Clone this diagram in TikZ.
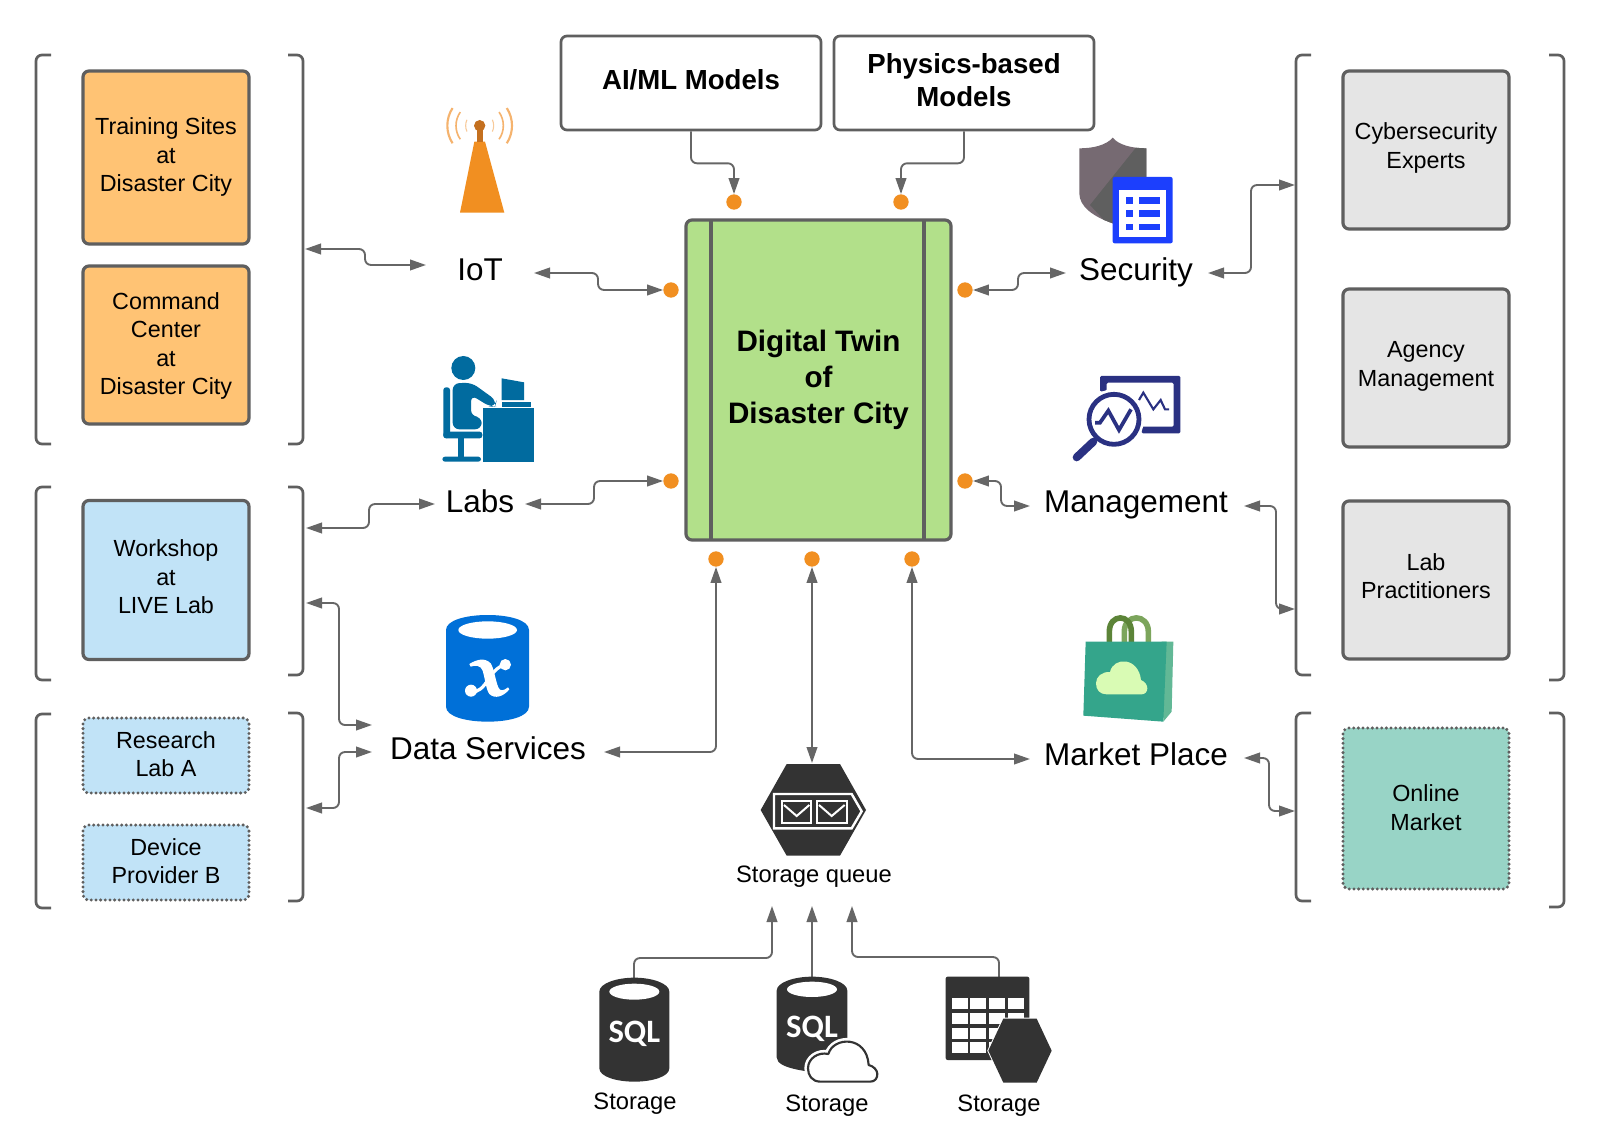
\documentclass[tikz,border=0pt]{standalone}
\usepackage{fontspec}
\setmainfont{Liberation Sans}
\newfontfamily\sqlfont{Carlito}
\usetikzlibrary{arrows.meta,calc}
\definecolor{edgegray}{HTML}{5F5F5F}
\definecolor{linkgray}{HTML}{666666}
\definecolor{boxorange}{HTML}{FFC374}
\definecolor{boxblue}{HTML}{C1E3F7}
\definecolor{boxgray}{HTML}{E5E5E5}
\definecolor{boxteal}{HTML}{98D4C6}
\definecolor{boxgreen}{HTML}{B2E08A}
\definecolor{dotorange}{HTML}{F18F21}
\definecolor{towerdark}{HTML}{C4701F}
\definecolor{towerwave}{HTML}{F5B36E}
\definecolor{labblue}{HTML}{016B9F}
\definecolor{shieldlight}{HTML}{766A72}
\definecolor{shielddark}{HTML}{5F5F5F}
\definecolor{panelblue}{HTML}{1C3FFD}
\definecolor{mgmtblue}{HTML}{2A3182}
\definecolor{dataBlue}{HTML}{0070D8}
\definecolor{bagteal}{HTML}{34A58B}
\definecolor{bagside}{HTML}{62B896}
\definecolor{handledark}{HTML}{5C8438}
\definecolor{handlelight}{HTML}{7CA55C}
\definecolor{cloudgreen}{HTML}{D9FBB4}
\definecolor{icondark}{HTML}{333333}
\tikzset{
  boxbase/.style={rounded corners=4.5pt,align=center,inner sep=0pt,text=black,
    font=\fontsize{17.5}{21.4}\selectfont},
  solidbox/.style={boxbase,draw=edgegray,line width=2.4pt},
  dotbox/.style={boxbase,draw=edgegray,line width=2.5pt,dash pattern=on 0pt off 3.5pt,line cap=round},
  modelbox/.style={draw=edgegray,line width=2pt,fill=white,rounded corners=4.5pt,align=center,inner sep=0pt,
    font=\fontsize{20.7}{24.7}\selectfont\bfseries},
  biglabel/.style={font=\fontsize{23.6}{28}\selectfont,inner sep=0pt},
  smalllabel/.style={font=\fontsize{17.8}{21}\selectfont,inner sep=0pt},
  portdot/.style={circle,fill=dotorange,minimum size=11.5pt,inner sep=0pt},
  bracketline/.style={draw=edgegray,line width=2pt,rounded corners=4.5pt},
  link/.style={draw=linkgray,line width=1.4pt,rounded corners=4.5pt,
    -{Triangle[length=12pt,width=8pt,fill=linkgray]}},
  dlink/.style={link,{Triangle[length=12pt,width=8pt,fill=linkgray]}-{Triangle[length=12pt,width=8pt,fill=linkgray]}},
  zoomscope/.style={x=0.25pt,y=-0.25pt}
}
\begin{document}
\begin{tikzpicture}[x=0.75pt,y=-0.75pt]
\useasboundingbox (0,0) rectangle (1600,1148);
\fill[white] (0,0) rectangle (1600,1148);

% brackets
\draw[bracketline] (51,55) -- (36,55) -- (36,444) -- (51,444);
\draw[bracketline] (288,55) -- (303,55) -- (303,444) -- (288,444);
\draw[bracketline] (51,487) -- (36,487) -- (36,680) -- (51,680);
\draw[bracketline] (288,487) -- (303,487) -- (303,675) -- (288,675);
\draw[bracketline] (51,714) -- (36,714) -- (36,908) -- (51,908);
\draw[bracketline] (288,713) -- (303,713) -- (303,901) -- (288,901);
\draw[bracketline] (1311,55) -- (1296,55) -- (1296,675) -- (1311,675);
\draw[bracketline] (1549,55) -- (1564,55) -- (1564,680) -- (1549,680);
\draw[bracketline] (1311,713) -- (1296,713) -- (1296,901) -- (1311,901);
\draw[bracketline] (1549,713) -- (1564,713) -- (1564,907) -- (1549,907);

% left boxes
\node[solidbox,fill=boxorange,minimum width=124.5pt,minimum height=129.75pt,text depth=4.2pt] (training) at (166,157.5) {Training Sites\\at\\Disaster City};
\node[solidbox,fill=boxorange,minimum width=124.5pt,minimum height=118.5pt,text depth=2.2pt] (command) at (166,345) {Command\\Center\\at\\Disaster City};
\node[solidbox,fill=boxblue,minimum width=124.5pt,minimum height=119.25pt,text depth=4.6pt] (workshop) at (166,580) {Workshop\\at\\LIVE Lab};
\node[dotbox,fill=boxblue,minimum width=124.5pt,minimum height=56.25pt,text depth=2.4pt] (research) at (166,755.5) {Research\\Lab A};
\node[dotbox,fill=boxblue,minimum width=124.5pt,minimum height=56.25pt,text depth=2.3pt] (device) at (166,862.5) {Device\\Provider B};

% right boxes
\node[solidbox,fill=boxgray,minimum width=124.5pt,minimum height=118.5pt,text depth=6.7pt] (cyber) at (1426,150) {Cybersecurity\\Experts};
\node[solidbox,fill=boxgray,minimum width=124.5pt,minimum height=118.5pt,text depth=6pt] (agency) at (1426,368) {Agency\\Management};
\node[solidbox,fill=boxgray,minimum width=124.5pt,minimum height=118.5pt,text depth=6pt] (practitioners) at (1426,580) {Lab\\Practitioners};
\node[dotbox,fill=boxteal,minimum width=124.5pt,minimum height=120.75pt,text depth=1.5pt] (online) at (1426,808.5) {Online\\Market};

% model boxes
\node[modelbox,minimum width=195pt,minimum height=70.5pt,text depth=4.6pt] (aiml) at (691,83) {AI/ML Models};
\node[modelbox,minimum width=195pt,minimum height=70.5pt,text depth=4.6pt] (physics) at (964,83) {Physics-based\\Models};

% central box
\node[draw=edgegray,line width=2.4pt,fill=boxgreen,rounded corners=4.5pt,minimum width=198.75pt,minimum height=240pt,inner sep=0pt,
  align=center,font=\fontsize{22.2}{26.8}\selectfont\bfseries] (twin) at (818.5,380) {Digital Twin\\of\\Disaster City};
\draw[edgegray,line width=2.8pt] (711,220) -- (711,540);
\draw[edgegray,line width=2.8pt] (924,220) -- (924,540);

% port dots
\node[portdot] (dAI) at (734,202) {};
\node[portdot] (dPH) at (901,202) {};
\node[portdot] (dIoT) at (671,290) {};
\node[portdot] (dLab) at (671,481) {};
\node[portdot] (dSec) at (965,290) {};
\node[portdot] (dMan) at (965,481) {};
\node[portdot] (dData) at (716,559) {};
\node[portdot] (dQueue) at (812,559) {};
\node[portdot] (dMkt) at (912,559) {};

% labels
\node[biglabel] (iot) at (480,270) {IoT};
\node[biglabel] (labs) at (480,501) {Labs};
\node[biglabel] (dataserv) at (488,748) {Data Services};
\node[biglabel] (security) at (1136,272) {Security};
\node[biglabel] (management) at (1136,505) {Management};
\node[biglabel] (market) at (1136,754) {Market Place};
\node[smalllabel] (queuelabel) at (814,877) {Storage queue};
\node[smalllabel] (st1) at (635,1104) {Storage};
\node[smalllabel] (st2) at (827,1106) {Storage};
\node[smalllabel] (st3) at (999,1106) {Storage};

% connector ends
\coordinate (bA) at (305,249);
\coordinate (bB) at (306,528);
\coordinate (bC) at (306,603);
\coordinate (bD) at (306,808);
\coordinate (bE) at (1295,185);
\coordinate (bF) at (1295,609);
\coordinate (bG) at (1295,811);
\coordinate (iotW) at (426,265);
\coordinate (iotE) at (534,273);
\coordinate (labsW) at (435,504);
\coordinate (labsE) at (525,504);
\coordinate (dsWa) at (372,725);
\coordinate (dsWb) at (372,752);
\coordinate (dsE) at (604,752);
\coordinate (secW) at (1066,273);
\coordinate (secE) at (1208,273);
\coordinate (manW) at (1030,506);
\coordinate (manE) at (1244,506);
\coordinate (mktW) at (1030,759);
\coordinate (mktE) at (1244,758);
\coordinate (queueTop) at (812,763);
\coordinate (queueIn1) at (772,906);
\coordinate (queueIn2) at (812,906);
\coordinate (queueIn3) at (852,906);
\coordinate (sql1Top) at (634,978);
\coordinate (sql2Top) at (812,977);
\coordinate (tblTop) at (999,977);

% connectors
\draw[dlink] (bA) -- ++(60,0) |- (iotW);
\draw[dlink] (iotE) -- ++(64,0) |- (dIoT.west);
\draw[dlink] (bB) -- ++(63,0) |- (labsW);
\draw[dlink] (labsE) -- ++(69,0) |- (dLab.west);
\draw[dlink] (bC) -- ++(33,0) |- (dsWa);
\draw[dlink] (bD) -- ++(33,0) |- (dsWb);
\draw[dlink] (dsE) -| (dData.south);
\draw[dlink] (queueTop) -- (dQueue.south);
\draw[dlink] (mktW) -| (dMkt.south);
\draw[dlink] (mktE) -- ++(25,0) |- (bG);
\draw[dlink] (manE) -- ++(32,0) |- (bF);
\draw[dlink] (manW) -- ++(-29,0) |- (dMan.east);
\draw[dlink] (secW) -- ++(-48,0) |- (dSec.east);
\draw[dlink] (secE) -- ++(43,0) |- (bE);
\draw[link] (aiml.south) -- ++(0,32) -| (dAI.north);
\draw[link] (physics.south) -- ++(0,32) -| (dPH.north);
\draw[link] (sql1Top) -- ++(0,-20) -| (queueIn1);
\draw[link] (sql2Top) -- (queueIn2);
\draw[link] (tblTop) -- ++(0,-20) -| (queueIn3);

% tower + lab icons (zoom frame 400,90)
\begin{scope}[shift={(400,90)},zoomscope]
  \fill[dotorange] (223,155) -- (255,155) -- (313,368) -- (180,368) -- cycle;
  \fill[towerdark] (230,115) rectangle (248,155);
  \fill[towerdark] (239,107) circle[radius=17];
  \draw[towerwave,line width=1.6pt] (239,107) ++(147:97) arc[start angle=147,end angle=213,radius=97];
  \draw[towerwave,line width=1.6pt] (239,107) ++(33:97) arc[start angle=33,end angle=-33,radius=97];
  \draw[towerwave,line width=1.2pt] (239,107) ++(145:71) arc[start angle=145,end angle=215,radius=71];
  \draw[towerwave,line width=1.2pt] (239,107) ++(35:71) arc[start angle=35,end angle=-35,radius=71];
  \draw[towerwave!70,line width=0.8pt] (239,107) ++(155:42) arc[start angle=155,end angle=205,radius=42];
  \draw[towerwave!70,line width=0.8pt] (239,107) ++(25:42) arc[start angle=25,end angle=-25,radius=42];
  % lab
  \fill[labblue] (190,834) circle[radius=36];
  \fill[labblue] (250,955) rectangle (402,1115);
  \fill[labblue] (305,865) -- (372,877) -- (372,930) -- (305,930) -- cycle;
  \fill[labblue] (305,935) rectangle (392,952);
  \fill[labblue,rounded corners=5pt] (158,880) -- (215,878) -- (290,932) -- (285,950) -- (270,950) -- (213,915) -- (213,980) -- (245,980) -- (245,1018) -- (158,1018) -- cycle;
  \fill[labblue,rounded corners=2pt] (130,892) rectangle (150,1044);
  \fill[labblue,rounded corners=2pt] (130,1025) rectangle (247,1045);
  \fill[labblue] (175,1045) rectangle (193,1100);
  \fill[labblue,rounded corners=2pt] (127,1100) rectangle (243,1115);
\end{scope}

% security + management icons (zoom frame 1040,120)
\begin{scope}[shift={(1040,120)},zoomscope]
  \begin{scope}
    \clip (118,85) .. controls (160,85) and (200,75) .. (218,53) .. controls (236,75) and (276,85) .. (319,85) -- (319,250) -- (218,310) .. controls (160,290) and (118,260) .. (118,220) -- cycle;
    \fill[shieldlight] (110,45) rectangle (330,320);
    \fill[shielddark] (290,80) -- (330,80) -- (330,320) -- (210,320) -- (150,255) -- cycle;
  \end{scope}
  \fill[panelblue,rounded corners=1.5pt] (218,171) rectangle (398,370);
  \fill[white] (238,210) rectangle (379,351);
  \foreach \yy in {231,271,311}{
    \fill[panelblue] (258,\yy) rectangle (279,\yy+20);
    \fill[panelblue] (298,\yy) rectangle (359,\yy+20);
  }
  % management
  \fill[mgmtblue,rounded corners=1pt] (180,768) -- (421,768) -- (421,940) -- (305,940) -- (305,920) -- (401,920) -- (401,788) -- (200,788) -- (200,812) -- (180,815) -- cycle;
  \fill[white] (222,898) circle[radius=90];
  \draw[mgmtblue,line width=3.6pt] (222,898) circle[radius=75];
  \draw[mgmtblue,line width=6pt,line cap=round] (160,965) -- (110,1012);
  \draw[mgmtblue,line width=2.8pt,line join=miter] (165,908) -- (180,908) -- (205,872) -- (237,930) -- (273,868);
  \draw[mgmtblue,line width=1.6pt,line join=miter] (297,840) -- (310,818) -- (340,868) -- (362,840) -- (375,868) -- (387,868);
\end{scope}

% data services icon (zoom frame 420,600)
\begin{scope}[shift={(420,600)},zoomscope]
  \fill[dataBlue] (78,90) .. controls (78,60) and (140,45) .. (203,45) .. controls (266,45) and (327,60) .. (327,90)
     -- (327,320) .. controls (327,350) and (266,365) .. (203,365) .. controls (140,365) and (78,350) .. (78,320) -- cycle;
  \fill[white] (203,90) ellipse[x radius=88,y radius=26];
  % italic x glyph of the icon, as a filled shape
  \fill[white] (148,192) .. controls (170,178) and (195,172) .. (212,190) .. controls (222,205) and (226,240) .. (235,262) .. controls (240,275) and (252,272) .. (264,262)
     -- (268,268) .. controls (250,290) and (225,298) .. (208,282) .. controls (198,268) and (196,240) .. (188,212) .. controls (182,195) and (165,195) .. (152,200) -- cycle;
  \draw[white,line width=2.4pt] (262,195) .. controls (238,195) and (222,212) .. (205,238) .. controls (190,262) and (175,278) .. (152,276);
  \fill[white] (256,194) circle[radius=17];
  \fill[white] (153,272) circle[radius=18];
\end{scope}

% bag icon (zoom frame 1060,600)
\begin{scope}[shift={(1060,600)},zoomscope]
  \draw[handlelight,line width=4.2pt] (193,130) -- (193,95) .. controls (193,40) and (265,40) .. (265,95) -- (265,130);
  \draw[handledark,line width=4.2pt] (148,130) -- (148,95) .. controls (148,40) and (214,40) .. (214,95) -- (214,130);
  \fill[bagside] (305,125) -- (340,125) -- (335,335) -- (310,365) -- cycle;
  \fill[bagteal] (77,125) -- (305,125) -- (320,125) -- (310,365) -- (70,347) -- cycle;
  \fill[cloudgreen] (108,250) .. controls (108,230) and (125,215) .. (150,216) .. controls (160,170) and (235,170) .. (243,240) .. controls (255,245) and (262,255) .. (262,265) .. controls (262,275) and (255,283) .. (245,283) -- (140,283) .. controls (120,283) and (108,270) .. (108,250) -- cycle;
\end{scope}

% storage icons (zoom frame 580,750)
\begin{scope}[shift={(580,750)},zoomscope]
  % queue
  \fill[icondark] (620,42) -- (780,42) -- (858,180) -- (780,317) -- (620,317) -- (542,180) -- cycle;
  \draw[white,line width=1.8pt] (582,132) -- (815,132) -- (845,184) -- (815,235) -- (582,235) -- cycle;
  \draw[white,line width=1.5pt] (606,153) rectangle (694,218);
  \draw[white,line width=1.5pt] (711,153) rectangle (800,218);
  \draw[white,line width=1.5pt] (612,165) -- (650,198) -- (688,165);
  \draw[white,line width=1.5pt] (717,165) -- (755,198) -- (794,165);
  % sql 1
  \fill[icondark] (58,725) .. controls (58,700) and (110,683) .. (163,683) .. controls (216,683) and (268,700) .. (268,725)
     -- (268,955) .. controls (268,980) and (216,995) .. (163,995) .. controls (110,995) and (58,980) .. (58,955) -- cycle;
  \fill[white] (163,725) ellipse[x radius=75,y radius=24];
  \node[text=white,inner sep=0pt,font=\sqlfont\bfseries\fontsize{24.5}{25}\selectfont] (sqlA) at (163,852) {SQL};
  % sql 2
  \fill[icondark] (590,722) .. controls (590,697) and (643,680) .. (696,680) .. controls (749,680) and (802,697) .. (802,722)
     -- (802,925) -- (760,975) .. controls (700,965) and (590,960) .. (590,922) -- cycle;
  \fill[white] (696,718) ellipse[x radius=75,y radius=23];
  \node[text=white,inner sep=0pt,font=\sqlfont\bfseries\fontsize{24.5}{25}\selectfont] (sqlB) at (696,836) {SQL};
  \draw[white,line width=5.5pt,fill=white,line join=round] (722,995) .. controls (695,995) and (684,975) .. (684,955) .. controls (684,925) and (715,905) .. (745,912) .. controls (760,860) and (860,855) .. (866,945) .. controls (880,948) and (892,960) .. (892,972) .. controls (892,985) and (885,995) .. (870,995) -- cycle;
  \draw[icondark,line width=1.6pt,fill=white,line join=round] (722,995) .. controls (695,995) and (684,975) .. (684,955) .. controls (684,925) and (715,905) .. (745,912) .. controls (760,860) and (860,855) .. (866,945) .. controls (880,948) and (892,960) .. (892,972) .. controls (892,985) and (885,995) .. (870,995) -- cycle;
  % table
  \fill[icondark,rounded corners=1.5pt] (1097,680) rectangle (1348,930);
  \foreach \cx in {1115,1171,1227,1283}{
    \foreach \cy in {745,789,833,877}{
      \fill[white] (\cx,\cy) rectangle (\cx+48,\cy+33);
    }
  }
  \draw[white,line width=1.5pt,fill=icondark] (1270,806) -- (1370,806) -- (1415,902) -- (1370,998) -- (1270,998) -- (1225,902) -- cycle;
  \fill[icondark] (1270,806) -- (1370,806) -- (1415,902) -- (1370,998) -- (1270,998) -- (1225,902) -- cycle;
\end{scope}
\end{tikzpicture}
\end{document}
